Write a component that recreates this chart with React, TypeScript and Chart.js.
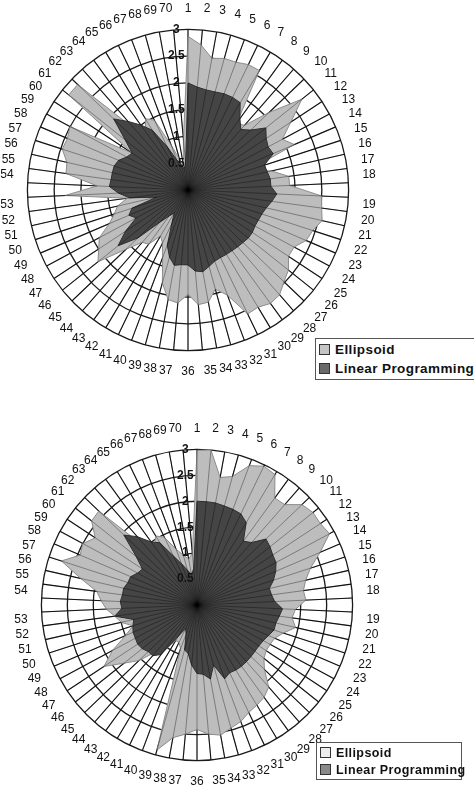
import React, { useEffect, useRef } from 'react';
import { Chart, registerables, RadialLinearScale, Plugin } from 'chart.js';
Chart.register(...registerables);

// 70 test cases around the dial
const spokeLabels = Array.from({ length: 70 }, (_, i) => String(i + 1));
const radialTicks = ['0', '0.5', '1', '1.5', '2', '2.5', '3'];

const topEllipsoid = [
  2.87, 2.72, 2.5, 2.55, 2.55, 2.6, 2.6, 1.55, 1.6, 2.1,
  2.72, 2.3, 2.0, 2.16, 1.2, 1.6, 1.9, 1.9, 2.5, 2.52,
  2.57, 2.45, 2.4, 2.25, 2.25, 2.4, 2.48, 2.6, 2.62, 2.55,
  2.57, 2.1, 1.92, 2.13, 2.15, 1.95, 2.12, 2.08, 1.8, 1.35,
  1.1, 1.0, 1.25, 1.3, 1.6, 2.15, 2.0, 1.88, 1.6, 1.45,
  1.35, 1.15, 2.3, 1.7, 2.3, 2.32, 2.47, 2.45, 2.5, 1.25,
  2.85, 2.85, 1.5, 1.35, 1.55, 1.45, 0.9, 0.6, 0.5, 0.95,
];
const topLinear = [
  2.0, 1.93, 1.9, 1.9, 1.92, 1.92, 1.9, 1.65, 1.5, 1.62,
  1.86, 1.75, 1.7, 1.73, 1.5, 1.52, 1.55, 1.55, 1.66, 1.58,
  1.5, 1.45, 1.43, 1.42, 1.44, 1.44, 1.42, 1.41, 1.4, 1.4,
  1.4, 1.42, 1.48, 1.55, 1.52, 1.4, 1.4, 1.43, 1.3, 1.1,
  0.7, 0.5, 0.6, 0.8, 1.3, 1.67, 1.4, 1.1, 1.2, 1.1,
  0.6, 1.1, 1.3, 1.47, 1.45, 1.45, 1.45, 1.41, 1.3, 1.25,
  1.5, 1.92, 1.7, 1.5, 1.3, 0.9, 0.6, 0.5, 0.4, 0.5,
];
const bottomEllipsoid = [
  2.98, 3.0, 2.5, 2.57, 2.87, 2.97, 2.93, 2.55, 2.57, 2.8,
  2.86, 2.85, 2.9, 2.58, 2.3, 2.15, 2.07, 2.1, 1.9, 1.85,
  1.95, 1.75, 1.63, 1.6, 1.6, 1.65, 1.8, 2.1, 2.2, 2.25,
  2.3, 2.4, 2.46, 2.55, 2.5, 2.4, 2.5, 2.6, 2.9, 0.9,
  0.8, 0.8, 1.1, 1.2, 1.55, 1.8, 2.15, 1.85, 1.5, 1.3,
  1.5, 1.6, 1.75, 1.85, 1.95, 2.3, 2.75, 2.45, 2.5, 2.35,
  2.6, 2.62, 1.4, 1.4, 1.55, 1.45, 1.15, 1.0, 0.9, 1.0,
];
const bottomLinear = [
  2.0, 2.0, 2.0, 1.98, 1.97, 1.95, 1.85, 1.52, 1.6, 1.84,
  1.8, 1.75, 1.73, 1.65, 1.55, 1.43, 1.45, 1.5, 1.65, 1.6,
  1.56, 1.56, 1.5, 1.45, 1.43, 1.43, 1.44, 1.45, 1.46, 1.46,
  1.45, 1.52, 1.2, 1.45, 1.34, 1.32, 1.16, 0.95, 0.9, 0.6,
  0.5, 0.7, 1.18, 1.3, 1.3, 1.35, 1.37, 1.35, 1.34, 1.3,
  1.25, 1.6, 1.45, 1.48, 1.45, 1.45, 1.4, 1.39, 1.3, 1.26,
  1.5, 1.95, 1.75, 1.5, 1.4, 1.05, 0.85, 0.7, 0.6, 0.7,
];

// spokes show through the filled areas in the scan, so stroke them again on top
const spokesOnTop: Plugin<'radar'> = {
  id: 'spokesOnTop',
  afterDatasetsDraw(chart) {
    const scale = chart.scales.r as RadialLinearScale;
    const ctx = chart.ctx;
    ctx.save();
    ctx.strokeStyle = 'rgba(0, 0, 0, 0.35)';
    ctx.lineWidth = 1;
    const n = (chart.data.labels || []).length;
    for (let i = 0; i < n; i++) {
      const p = scale.getPointPosition(i, scale.drawingArea);
      ctx.beginPath();
      ctx.moveTo(scale.xCenter, scale.yCenter);
      ctx.lineTo(p.x, p.y);
      ctx.stroke();
    }
    ctx.restore();
  },
};

interface RadarPanelProps {
  ellipsoid: number[];
  linear: number[];
  left: number;
  top: number;
  size: number;
}

const RadarPanel: React.FC<RadarPanelProps> = ({ ellipsoid, linear, left, top, size }) => {
  const canvasRef = useRef<HTMLCanvasElement>(null);

  useEffect(() => {
    if (!canvasRef.current) return;
    const chart = new Chart(canvasRef.current, {
      type: 'radar',
      data: {
        labels: spokeLabels,
        datasets: [
          {
            label: 'Ellipsoid',
            data: ellipsoid,
            backgroundColor: '#bdbdbd',
            borderColor: '#8c8c8c',
            borderWidth: 1,
            pointRadius: 0,
            fill: true,
            order: 2,
          },
          {
            label: 'Linear Programming',
            data: linear,
            backgroundColor: '#454545',
            borderColor: '#2e2e2e',
            borderWidth: 1,
            pointRadius: 0,
            fill: true,
            order: 1,
          },
        ],
      },
      options: {
        responsive: true,
        maintainAspectRatio: false,
        animation: false,
        elements: { line: { tension: 0 } },
        plugins: {
          legend: { display: false },
          tooltip: { enabled: false },
        },
        scales: {
          r: {
            min: 0,
            max: 3,
            ticks: {
              stepSize: 0.5,
              z: 1,
              showLabelBackdrop: false,
              color: '#111',
              font: { family: 'Liberation Sans, Arial, sans-serif', size: 12, weight: 'bold' },
              // trailing blanks push the centred label to the left of the spoke, as in the scan
              callback: (_v: any, i: number) => radialTicks[i] + '       ',
            },
            grid: { circular: true, color: '#1a1a1a', lineWidth: 1.3 },
            angleLines: { color: '#1a1a1a', lineWidth: 1.1 },
            pointLabels: {
              padding: 6,
              color: '#111',
              font: { family: 'Liberation Sans, Arial, sans-serif', size: 12 },
            },
          },
        },
      },
      plugins: [spokesOnTop],
    });
    return () => chart.destroy();
  }, [ellipsoid, linear]);

  return (
    <div style={{ position: 'absolute', left, top, width: size, height: size }}>
      <canvas ref={canvasRef}></canvas>
    </div>
  );
};

const Legend: React.FC<{ left: number; top: number; width: number; height: number; fontSize: number; light: string; dark: string }> = ({
  left, top, width, height, fontSize, light, dark,
}) => {
  const row: React.CSSProperties = { display: 'flex', alignItems: 'center', height: height / 2 - 2 };
  const swatch = (c: string): React.CSSProperties => ({
    width: 9, height: 9, background: c, border: '1px solid #333', marginRight: 5, flexShrink: 0,
  });
  return (
    <div
      style={{
        position: 'absolute', left, top, width, height, boxSizing: 'border-box',
        border: '1.5px solid #555', background: '#fff', padding: '1px 0 0 3px',
        fontFamily: 'Liberation Sans, Arial, sans-serif', fontWeight: 'bold', fontSize, color: '#111',
        whiteSpace: 'nowrap', letterSpacing: 0.4,
      }}
    >
      <div style={row}><span style={swatch(light)}></span>Ellipsoid</div>
      <div style={row}><span style={swatch(dark)}></span>Linear Programming</div>
    </div>
  );
};

export default function App() {
  return (
    <div style={{ position: 'absolute', left: 0, top: 0, width: 474, height: 785, background: '#fff', overflow: 'hidden' }}>
      <RadarPanel ellipsoid={topEllipsoid} linear={topLinear} left={0} top={1} size={378} />
      <RadarPanel ellipsoid={bottomEllipsoid} linear={bottomLinear} left={14} top={421} size={368} />
      <Legend left={315} top={338} width={162} height={42} fontSize={13.5} light="#c4c4c4" dark="#6a6a6a" />
      <Legend left={316} top={742} width={146} height={38} fontSize={12.5} light="#ececec" dark="#8a8a8a" />
    </div>
  );
}
